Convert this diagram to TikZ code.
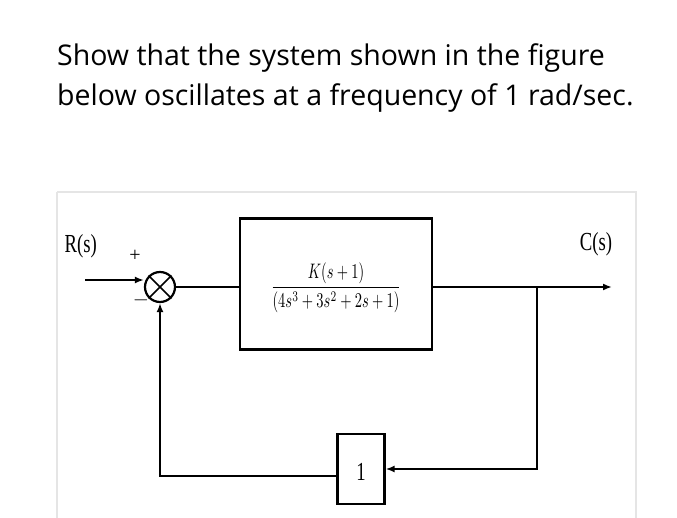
\documentclass[tikz,border=0pt]{standalone}
\usepackage{fontspec}
\setmainfont{Liberation Serif}
\newfontfamily\titlefont{Open Sans}
\usetikzlibrary{arrows.meta}
\begin{document}
\begin{tikzpicture}[x=1pt,y=-1pt,
  wire/.style={line width=2.2pt,-{Latex[length=9pt,width=7pt]}},
  plain/.style={line width=2.2pt},
  blk/.style={draw,line width=2.2pt,inner sep=0pt},
  lbl/.style={font=\fontsize{26}{26}\selectfont,xscale=0.72}]
\useasboundingbox (0,0) rectangle (677,518);
\fill[white] (0,0) rectangle (677,518);
\draw[gray!20,line width=1.5pt] (57,192) -- (636,192) -- (636,518) (57,192) -- (57,518);
\node[anchor=base west,inner sep=0pt,font=\titlefont\fontsize{28.5}{28.5}\selectfont] (t1) at (57,66) {Show that the system shown in the figure};
\node[anchor=base west,inner sep=0pt,font=\titlefont\fontsize{28.5}{28.5}\selectfont] (t2) at (57,106) {below oscillates at a frequency of 1 rad/sec.};
\node[draw,circle,line width=2.2pt,minimum size=30pt,inner sep=0pt] (sum) at (160,287) {};
\draw[line width=1.6pt] (sum.north west) -- (sum.south east) (sum.north east) -- (sum.south west);
\node[blk,minimum width=192pt,minimum height=131pt] (G) at (336,284) {};
\node (frac) at (336,288) {\scalebox{1.45}[2.1]{$\displaystyle\frac{K(s+1)}{(4s^3+3s^2+2s+1)}$}};
\node[blk,minimum width=47pt,minimum height=70pt] (H) at (361,469) {};
\node[lbl] (one) at (361,472) {1};
\node[lbl,anchor=west] (R) at (62,246) {R(s)};
\node[lbl] (C) at (596,244) {C(s)};
\node[font=\fontsize{20}{20}\selectfont] (plus) at (135,256) {+};
\node[font=\fontsize{20}{20}\selectfont] (minus) at (141,300) {$-$};
\coordinate (in) at (85,280);
\coordinate (out) at (612,287);
\coordinate (br) at (537,287);
\coordinate (fb) at (160,476);
\draw[wire] (in) -- (sum.west |- in);
\draw[plain] (sum.east) -- (G.west |- sum.east);
\draw[wire] (G.east |- br) -- (out);
\draw[wire] (br) |- (H.east);
\draw[wire] (H.west |- fb) -| (sum.south);
\end{tikzpicture}
\end{document}
